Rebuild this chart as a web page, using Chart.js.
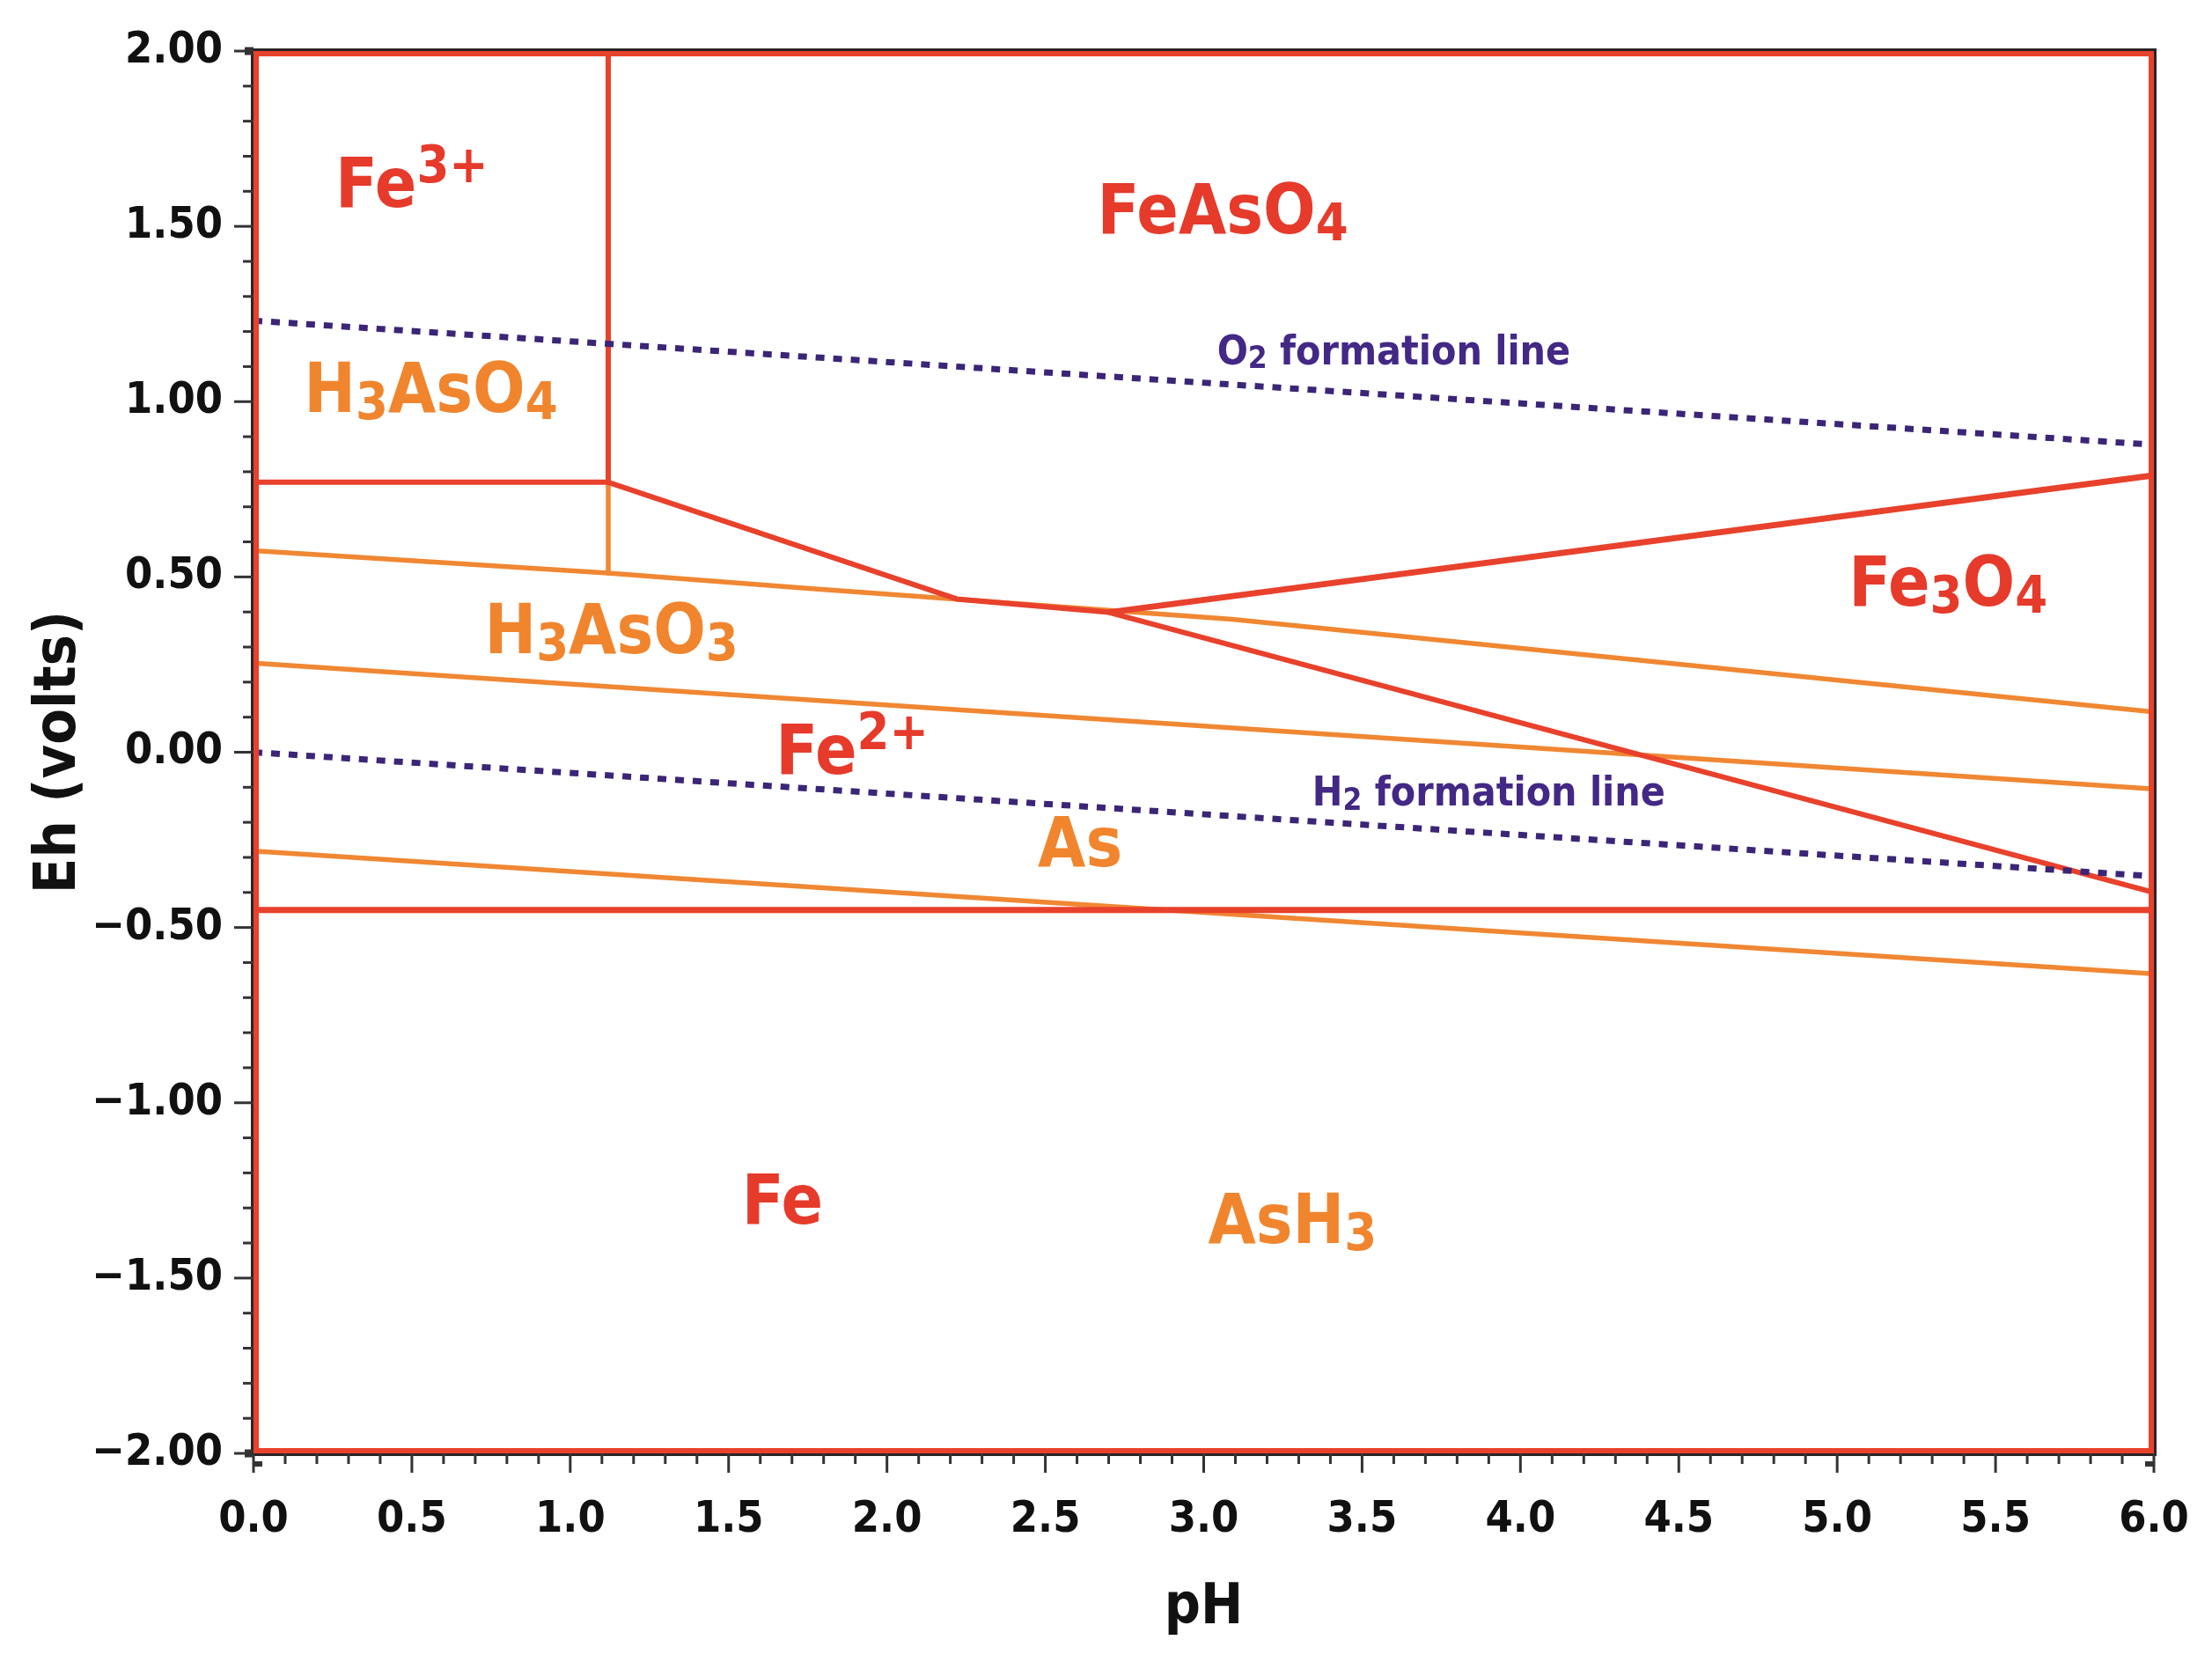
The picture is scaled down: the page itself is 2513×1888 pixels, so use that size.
<!DOCTYPE html>
<html>
<head>
<meta charset="utf-8">
<script src="https://cdn.jsdelivr.net/npm/chart.js@4.4.0/dist/chart.umd.min.js"></script>
<style>
  html, body { margin: 0; padding: 0; background: #fff; }
  #wrap { width: 2513px; height: 1888px; }
</style>
</head>
<body>
<div id="wrap"><canvas id="pourbaix"></canvas></div>
<script>
// Eh-pH diagram, Fe-As-H2O system
// each boundary is a list of [pH, Eh] points
const fe3_feAsO4 = [[1.12, 2.00], [1.12, 0.77]];
const fe3_fe2 = [[0, 0.77], [1.12, 0.77]];
const feAsO4_fe2 = [[1.12, 0.77], [2.22, 0.437], [2.70, 0.399], [6.0, -0.40]];
const feAsO4_fe3O4 = [[2.70, 0.399], [6.0, 0.79]];
const fe2_fe = [[0, -0.45], [6.0, -0.45]];

const h3aso4_h3aso3 = [[0, 0.575], [1.12, 0.511], [1.755, 0.467], [3.09, 0.379], [6.0, 0.115]];
const h3aso4_edge = [[1.12, 0.77], [1.12, 0.511]];
const h3aso3_as = [[0, 0.254], [6.0, -0.105]];
const as_ash3 = [[0, -0.282], [6.0, -0.632]];

const o2Line = [[0, 1.231], [6.0, 0.877]];
const h2Line = [[0, 0.0], [6.0, -0.354]];

// region labels: text (_ = subscript, ^{} = superscript), pH centre, Eh baseline
const labelText = ['Fe^{3+}', 'FeAsO_4', 'O_2 formation line', 'H_3AsO_4', 'Fe_3O_4',
                   'H_3AsO_3', 'Fe^{2+}', 'H_2 formation line', 'As', 'Fe', 'AsH_3'];
const labelPH = [0.50, 3.06, 3.60, 0.56, 5.35, 1.13, 1.89, 3.90, 2.61, 1.67, 3.28];
const labelEh = [1.555, 1.48, 1.107, 0.97, 0.418, 0.282, -0.062, -0.153, -0.326, -1.345, -1.40];
const labelKind = ['fe', 'fe', 'water', 'as', 'fe', 'as', 'fe', 'water', 'as', 'fe', 'as'];

const pHRange = [0, 6];
const ehRange = [-2, 2];

const RED = '#e8412c';
const ORANGE = '#f08732';
const PURPLE = '#3b2577';
const FONT = '"DejaVu Sans Condensed", "DejaVu Sans", sans-serif';

function lineSet(points, color, width, dash, order) {
    return {
        data: points.map(p => ({ x: p[0], y: p[1] })),
        showLine: true,
        borderColor: color,
        borderWidth: width,
        borderDash: dash || [],
        borderCapStyle: 'butt',
        borderJoinStyle: 'round',
        pointRadius: 0,
        pointHoverRadius: 0,
        fill: false,
        tension: 0,
        order: order
    };
}

function isMajor(v, step) {
    const r = v / step;
    return Math.abs(r - Math.round(r)) < 1e-6;
}

// splits 'H_3AsO_4' / 'Fe^{3+}' into normal, sub and sup pieces
function parseLabel(str) {
    const parts = [];
    let i = 0, buf = '';
    while (i < str.length) {
        const c = str[i];
        if (c === '_' || c === '^') {
            if (buf) { parts.push({ t: buf, k: 'n' }); buf = ''; }
            let txt;
            if (str[i + 1] === '{') {
                const end = str.indexOf('}', i);
                txt = str.slice(i + 2, end);
                i = end + 1;
            } else {
                txt = str[i + 1];
                i += 2;
            }
            parts.push({ t: txt, k: c === '_' ? 'sub' : 'sup' });
        } else {
            buf += c;
            i++;
        }
    }
    if (buf) parts.push({ t: buf, k: 'n' });
    return parts;
}

function drawRich(ctx, str, cx, baseY, size, color) {
    const parts = parseLabel(str);
    const fontFor = k => 'bold ' + (k === 'n' ? size : Math.round(size * 0.76)) + 'px ' + FONT;
    let total = 0;
    parts.forEach(p => {
        ctx.font = fontFor(p.k);
        p.w = ctx.measureText(p.t).width;
        total += p.w;
    });
    let x = cx - total / 2;
    ctx.fillStyle = color;
    ctx.textBaseline = 'alphabetic';
    ctx.textAlign = 'left';
    parts.forEach(p => {
        ctx.font = fontFor(p.k);
        let dy = 0;
        if (p.k === 'sub') dy = size * 0.10;
        if (p.k === 'sup') dy = -size * 0.36;
        ctx.fillText(p.t, x, baseY + dy);
        x += p.w;
    });
}

const framePlugin = {
    id: 'frame',
    afterDatasetsDraw(chart) {
        const { ctx, chartArea: a } = chart;
        ctx.save();
        // black outline with red boundary just inside
        ctx.strokeStyle = '#2b2326';
        ctx.lineWidth = 3;
        ctx.strokeRect(a.left - 1.5, a.top - 1.5, a.right - a.left + 3, a.bottom - a.top + 3);
        ctx.strokeStyle = RED;
        ctx.lineWidth = 6;
        ctx.strokeRect(a.left + 3, a.top + 3, a.right - a.left - 6, a.bottom - a.top - 6);

        // ticks, long at labelled values, short between, stubby at the axis ends
        ctx.strokeStyle = '#333';
        const xs = chart.scales.x, ys = chart.scales.y;
        const last = (arr, i) => i === 0 || i === arr.length - 1;
        ys.ticks.forEach((t, i, arr) => {
            const py = ys.getPixelForValue(t.value);
            const len = isMajor(t.value, 0.5) ? 22 : 12;
            ctx.lineWidth = 3;
            ctx.beginPath();
            ctx.moveTo(a.left - len, py);
            ctx.lineTo(a.left, py);
            ctx.stroke();
            if (last(arr, i)) {
                ctx.lineWidth = 9;
                ctx.beginPath();
                ctx.moveTo(a.left - 10, py);
                ctx.lineTo(a.left, py);
                ctx.stroke();
            }
        });
        xs.ticks.forEach((t, i, arr) => {
            const px = xs.getPixelForValue(t.value);
            const len = isMajor(t.value, 0.5) ? 22 : 12;
            ctx.lineWidth = 3;
            ctx.beginPath();
            ctx.moveTo(px, a.bottom);
            ctx.lineTo(px, a.bottom + len);
            ctx.stroke();
            if (last(arr, i)) {
                ctx.lineWidth = 6;
                ctx.beginPath();
                ctx.moveTo(px, a.bottom + 12);
                ctx.lineTo(px + (i === 0 ? 10 : -10), a.bottom + 12);
                ctx.stroke();
            }
        });

        // region labels
        labelText.forEach((txt, i) => {
            const px = xs.getPixelForValue(labelPH[i]);
            const py = ys.getPixelForValue(labelEh[i]);
            const kind = labelKind[i];
            const color = kind === 'fe' ? '#e63a2b' : kind === 'as' ? '#f0852e' : '#432886';
            const size = kind === 'water' ? 46 : 78;
            drawRich(ctx, txt, px, py, size, color);
        });
        ctx.restore();
    }
};

// keep the plot box where the layout padding puts it
function noLabelPadding(s) {
    s.paddingLeft = 0;
    s.paddingRight = 0;
    s.paddingTop = 0;
    s.paddingBottom = 0;
}

const ctx = document.getElementById('pourbaix').getContext('2d');

new Chart(ctx, {
    type: 'scatter',
    data: {
        datasets: [
            lineSet(o2Line, PURPLE, 7, [10, 10], 0),
            lineSet(h2Line, PURPLE, 7, [10, 10], 0),
            lineSet(fe3_feAsO4, RED, 6, null, 1),
            lineSet(fe3_fe2, RED, 6, null, 1),
            lineSet(feAsO4_fe2, RED, 6, null, 1),
            lineSet(feAsO4_fe3O4, RED, 7, null, 1),
            lineSet(fe2_fe, RED, 7, null, 1),
            lineSet(h3aso4_h3aso3, ORANGE, 5.5, null, 2),
            lineSet(h3aso4_edge, ORANGE, 5.5, null, 2),
            lineSet(h3aso3_as, ORANGE, 5.5, null, 2),
            lineSet(as_ash3, ORANGE, 5.5, null, 2)
        ]
    },
    options: {
        responsive: true,
        maintainAspectRatio: false,
        devicePixelRatio: 1,
        animation: false,
        layout: { padding: { left: 0, top: 58, right: 66, bottom: 0 } },
        plugins: {
            legend: { display: false },
            tooltip: { enabled: false }
        },
        scales: {
            x: {
                type: 'linear',
                min: pHRange[0],
                max: pHRange[1],
                afterFit: s => { s.height = 237; noLabelPadding(s); },
                grid: { display: false, drawTicks: false },
                border: { display: false },
                ticks: {
                    stepSize: 0.1,
                    autoSkip: false,
                    maxRotation: 0,
                    padding: 46,
                    color: '#111',
                    font: { family: FONT, size: 50, weight: 'bold' },
                    callback: v => isMajor(v, 0.5) ? v.toFixed(1) : ''
                },
                title: {
                    display: true,
                    text: 'pH',
                    color: '#111',
                    padding: { top: 0, bottom: 22 },
                    font: { family: FONT, size: 64, weight: 'bold' }
                }
            },
            y: {
                type: 'linear',
                min: ehRange[0],
                max: ehRange[1],
                afterFit: s => { s.width = 288; noLabelPadding(s); },
                grid: { display: false, drawTicks: false },
                border: { display: false },
                ticks: {
                    stepSize: 0.1,
                    autoSkip: false,
                    padding: 35,
                    color: '#111',
                    font: { family: FONT, size: 50, weight: 'bold' },
                    callback: v => {
                        if (!isMajor(v, 0.5)) return '';
                        const s = Math.abs(v).toFixed(2);
                        return v < -1e-9 ? '\u2212' + s : s;
                    }
                },
                title: {
                    display: true,
                    text: 'Eh (volts)',
                    color: '#111',
                    padding: { top: 28, bottom: 0 },
                    font: { family: FONT, size: 66, weight: 'bold' }
                }
            }
        }
    },
    plugins: [framePlugin]
});
</script>
</body>
</html>
